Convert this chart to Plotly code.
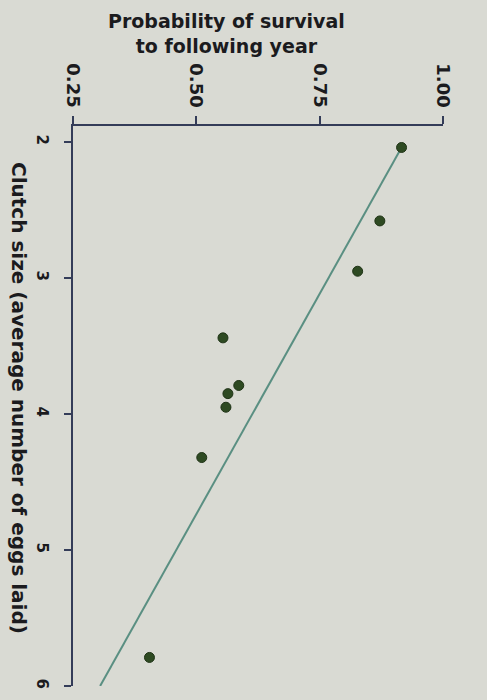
import plotly.graph_objects as go

# Data
clutch_size = [2.04, 2.58, 2.95, 3.44, 3.79, 3.85, 3.95, 4.32, 5.79]
survival = [0.916, 0.872, 0.827, 0.554, 0.586, 0.564, 0.560, 0.511, 0.405]
trend_clutch = [2.04, 6.0]
trend_survival = [0.916, 0.305]

prob_ticks = [0.25, 0.50, 0.75, 1.00]
prob_labels = ["0.25", "0.50", "0.75", "1.00"]
clutch_ticks = [2, 3, 4, 5, 6]
clutch_labels = ["2", "3", "4", "5", "6"]

BG = "#d9dad3"
AXIS = "#343c58"
TXT = "#1b1b1e"
FONT = "DejaVu Sans"

fig = go.Figure()
fig.add_trace(go.Scatter(
    x=trend_survival, y=trend_clutch, mode="lines",
    line=dict(color="#5a8f82", width=2), showlegend=False, hoverinfo="skip"))
fig.add_trace(go.Scatter(
    x=survival, y=clutch_size, mode="markers",
    marker=dict(color="#2e4a22", size=10, line=dict(color="#1f3316", width=1)),
    showlegend=False))

fig.update_layout(
    width=487, height=700, autosize=False,
    margin=dict(l=73, r=44, t=126, b=14),
    paper_bgcolor=BG, plot_bgcolor=BG,
    xaxis=dict(
        side="top", range=[0.25, 1.0], tickvals=prob_ticks, ticktext=prob_labels,
        tickangle=90, ticks="outside", ticklen=8, tickwidth=2, tickcolor=AXIS,
        showline=True, linecolor=AXIS, linewidth=2, showgrid=False, zeroline=False,
        tickfont=dict(family=FONT, size=18, color=TXT, weight="bold"),
        ticklabelstandoff=2, automargin=False),
    yaxis=dict(
        range=[6.0, 1.882], tickvals=clutch_ticks, ticktext=clutch_labels,
        tickangle=90, ticks="outside", ticklen=7, tickwidth=2, tickcolor=AXIS,
        showline=True, linecolor=AXIS, linewidth=2, showgrid=False, zeroline=False,
        tickfont=dict(family=FONT, size=15, color=TXT, weight="bold"),
        ticklabelstandoff=9, automargin=False),
    annotations=[
        dict(text="Probability of survival<br>to following year",
             xref="paper", yref="paper", x=(226 - 73) / 370, y=(686 - 34) / 560,
             xanchor="center", yanchor="middle", showarrow=False,
             font=dict(family=FONT, size=19, color=TXT, weight="bold")),
        dict(text="Clutch size (average number of eggs laid)",
             xref="paper", yref="paper", x=(19 - 73) / 370, y=(686 - 398) / 560,
             xanchor="center", yanchor="middle", showarrow=False, textangle=90,
             font=dict(family=FONT, size=20, color=TXT, weight="bold")),
    ],
)

fig.write_html("out.html", config={"displayModeBar": False},
               post_script="document.body.style.margin='0';document.body.style.background='%s';" % BG)
